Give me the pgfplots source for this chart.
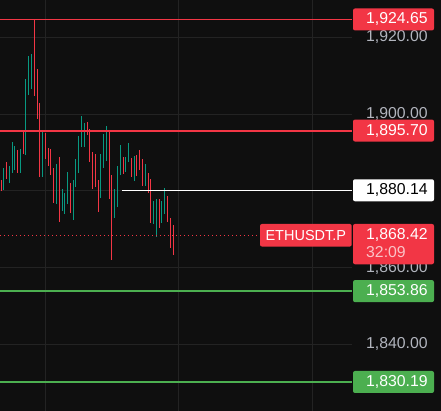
\documentclass[border=0pt]{standalone}
\usepackage{pgfplots}
\pgfplotsset{compat=1.18}
\usepackage{pgfplotstable}
\usepackage{fontspec}
\setmainfont{Liberation Sans}

\definecolor{bg}{HTML}{0F0F0F}
\definecolor{gridc}{HTML}{232323}
\definecolor{tvred}{HTML}{F23645}
\definecolor{tvgreen}{HTML}{089981}
\definecolor{lblgreen}{HTML}{4CAF50}
\definecolor{scaletxt}{HTML}{B2B5BE}
\definecolor{timer}{HTML}{FBC2C7}

% candles: x (px), high, low
\pgfplotstableread{
x hi lo
1.3 1882.82 1880.03
6.3 1887.51 1883.00
17.3 1890.64 1884.57
23.3 1895.41 1889.60
34.3 1924.65 1904.71
37.3 1911.74 1898.71
39.3 1902.88 1883.68
45.3 1895.07 1888.37
48.3 1891.16 1886.47
50.3 1890.82 1884.12
53.3 1885.87 1876.91
59.3 1888.74 1871.96
70.3 1881.96 1874.30
87.3 1897.93 1894.47
89.3 1896.11 1887.59
92.3 1890.12 1880.55
95.3 1889.60 1881.08
98.3 1882.82 1874.56
109.3 1895.33 1877.95
111.3 1884.12 1861.98
123.3 1888.74 1884.38
131.3 1888.55 1883.68
136.3 1889.33 1883.86
139.3 1890.64 1885.43
142.3 1888.29 1881.26
148.3 1884.65 1879.36
150.3 1883.08 1871.70
159.3 1877.87 1870.39
167.3 1878.65 1871.96
170.3 1872.84 1865.18
173.3 1871.10 1863.36
}\redcandles

\pgfplotstableread{
x hi lo
3.3 1885.87 1880.22
9.3 1886.47 1882.12
12.3 1892.72 1884.72
14.3 1891.68 1885.43
20.3 1890.98 1884.72
25.3 1909.14 1889.26
28.3 1915.13 1904.97
31.3 1915.65 1906.53
42.3 1895.41 1883.52
56.3 1886.99 1876.57
62.3 1880.40 1874.82
64.3 1879.36 1873.96
67.3 1884.91 1876.57
73.3 1882.82 1872.40
75.3 1888.21 1881.08
78.3 1894.29 1884.72
81.3 1899.50 1891.34
84.3 1897.67 1891.34
100.3 1889.60 1878.21
103.3 1894.81 1886.03
106.3 1896.89 1887.85
114.3 1880.40 1872.92
117.3 1886.47 1875.86
120.3 1891.94 1884.12
125.3 1888.74 1884.98
128.3 1892.38 1887.51
134.3 1889.07 1882.64
145.3 1886.99 1881.26
153.3 1877.43 1871.36
156.3 1877.87 1868.05
161.3 1877.35 1871.70
164.3 1880.74 1874.04
}\greencandles

\begin{document}
\begin{tikzpicture}
\fill[bg] (0,0) rectangle (441pt,411pt);
\useasboundingbox (0,0) rectangle (441pt,411pt);
\begin{axis}[
    at={(0,0)}, anchor=south west,
    scale only axis, width=352pt, height=411pt,
    xmin=0, xmax=352, ymin=1822.632, ymax=1929.719,
    axis line style={draw=none},
    xtick={45,178,312}, xticklabels={},
    ytick={1840,1860,1880,1900,1920},
    yticklabel pos=right,
    major tick length=0pt,
    scaled y ticks=false,
    xmajorgrids, ymajorgrids,
    grid style={gridc, line width=1pt},
    yticklabel style={anchor=west, xshift=14pt, inner sep=0pt, text=scaletxt,
        font=\fontsize{15.8}{17}\selectfont,
        /pgf/number format/fixed, /pgf/number format/fixed zerofill,
        /pgf/number format/precision=2, /pgf/number format/1000 sep={,}},
    /pgf/number format/assume math mode=true,
    clip=false,
]
    \addplot[draw=none, mark=none, error bars/.cd, y dir=both, y explicit,
        error mark=none, error bar style={draw=tvred, line width=1.1pt}]
        table[x=x, y expr={(\thisrow{hi}+\thisrow{lo})/2},
              y error expr={(\thisrow{hi}-\thisrow{lo})/2}] \redcandles;
    \addplot[draw=none, mark=none, error bars/.cd, y dir=both, y explicit,
        error mark=none, error bar style={draw=tvgreen, line width=1.1pt}]
        table[x=x, y expr={(\thisrow{hi}+\thisrow{lo})/2},
              y error expr={(\thisrow{hi}-\thisrow{lo})/2}] \greencandles;

    \addplot[tvred, line width=1pt] coordinates {(0,1924.65) (352,1924.65)};
    \addplot[tvred, line width=2pt] coordinates {(0,1895.70) (352,1895.70)};
    \addplot[white, line width=1.3pt] coordinates {(122,1880.14) (352,1880.14)};
    \addplot[tvred, line width=1pt, dash pattern=on 1pt off 3pt] coordinates {(0,1868.42) (260,1868.42)};
    \addplot[lblgreen, line width=1.6pt] coordinates {(0,1853.86) (352,1853.86)};
    \addplot[lblgreen, line width=1.6pt] coordinates {(0,1830.19) (352,1830.19)};

    \coordinate (p1) at (axis cs:353,1924.65);
    \coordinate (p2) at (axis cs:353,1895.70);
    \coordinate (p3) at (axis cs:353,1880.14);
    \coordinate (p4) at (axis cs:353,1868.42);
    \coordinate (p5) at (axis cs:353,1853.86);
    \coordinate (p6) at (axis cs:353,1830.19);
    \coordinate (sym) at (axis cs:260,1868.42);
\end{axis}
\tikzset{lbl/.style={rounded corners=2pt}}
\foreach \c/\f in {p1/tvred, p2/tvred, p3/white, p5/lblgreen, p6/lblgreen}{
  \fill[\f, lbl] ([yshift=-11pt]\c) rectangle ++(81pt,22pt);
}
\fill[tvred, lbl] ([yshift=11.3pt]p4) rectangle ++(81pt,-40.3pt);
\fill[tvred, lbl] ([yshift=-11.3pt]sym) rectangle ++(91.7pt,22.6pt);
\tikzset{lt/.style={anchor=west, inner sep=0pt, font=\fontsize{15.8}{17}\selectfont, text=white}}
\node[lt] at ([xshift=13pt]p1) {1,924.65};
\node[lt] at ([xshift=13pt]p2) {1,895.70};
\node[lt, text=black] at ([xshift=13pt]p3) {1,880.14};
\node[lt] at ([xshift=13pt]p4) {1,868.42};
\node[lt, text=timer] at ([xshift=13pt, yshift=-17pt]p4) {32:09};
\node[lt] at ([xshift=13pt]p5) {1,853.86};
\node[lt] at ([xshift=13pt]p6) {1,830.19};
\node[anchor=center, inner sep=0pt, font=\fontsize{14.5}{17}\selectfont, text=white]
    at ([xshift=45.85pt]sym) {ETHUSDT.P};
\end{tikzpicture}
\end{document}
